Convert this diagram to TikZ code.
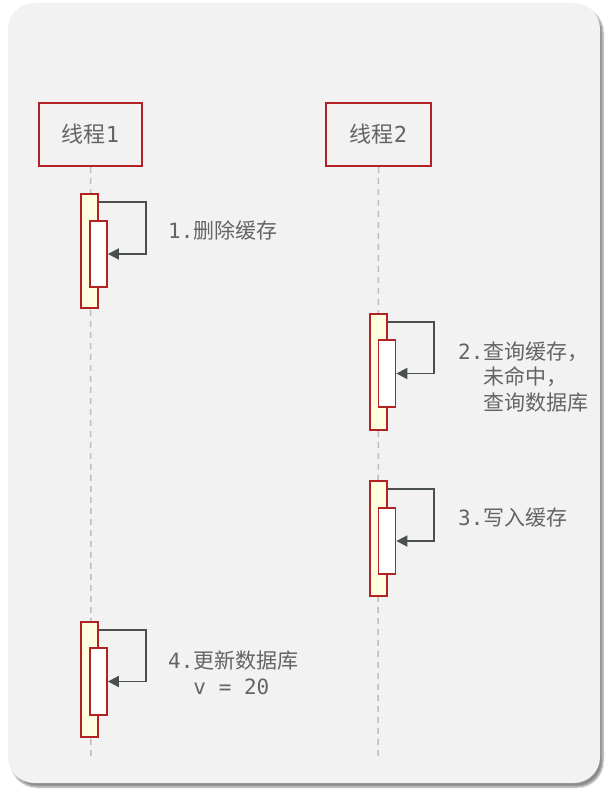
\documentclass[tikz,border=0pt]{standalone}
\usepackage{fontspec}
\setmonofont{DejaVu Sans Mono}
\newfontfamily\cjk{Noto Sans CJK SC}
\usetikzlibrary{arrows.meta,positioning,shadows.blur,calc}
\definecolor{boxred}{RGB}{178,34,34}
\definecolor{bggray}{RGB}{242,242,242}
\definecolor{textgray}{RGB}{100,100,100}
\definecolor{arrowgray}{RGB}{74,79,79}
\definecolor{lifegray}{RGB}{190,190,190}
\definecolor{actyellow}{RGB}{255,255,224}

\begin{document}
\begin{tikzpicture}[x=1pt, y=-1pt,
    head/.style={draw=boxred, line width=1.8pt, fill=bggray, minimum height=63pt, text=textgray, font=\fontsize{22}{26}\selectfont},
    actouter/.style={draw=boxred, line width=1.8pt, fill=actyellow, minimum width=17pt, inner sep=0pt},
    actinner/.style={draw=boxred, line width=1.8pt, fill=white, minimum width=17pt, inner sep=0pt},
    lifeline/.style={lifegray, line width=1.5pt, dash pattern=on 6pt off 5pt},
    selfmsg/.style={arrowgray, line width=1.8pt, -{Triangle[length=11pt, width=11pt]}},
    msglabel/.style={anchor=west, inner sep=0pt, text=textgray, align=left, font=\fontsize{21}{25.5}\selectfont\ttfamily}]
    \useasboundingbox (0,0) rectangle (615,799);
    % background card
    \fill[bggray, rounded corners=26pt, blur shadow={shadow xshift=3pt, shadow yshift=-4pt, shadow blur steps=6, shadow opacity=45}] (8,3) rectangle (600,783);
    % threads
    \node[head, minimum width=103pt] (t1) at (90.5,134.5) {{\cjk 线程}{\ttfamily 1}};
    \node[head, minimum width=105pt] (t2) at (378.5,134.5) {{\cjk 线程}{\ttfamily 2}};
    \coordinate (e1) at (91,760);
    \coordinate (e2) at (378,760);
    \draw[lifeline] (t1.south) -- (e1);
    \draw[lifeline] (t2.south) -- (e2);
    % activations
    \node[actouter, minimum height=114pt] (o1) at (89.5,251) {};
    \node[actinner, minimum height=66pt] (i1) at (98.5,254) {};
    \node[actouter, minimum height=116pt] (o2) at (378.5,372) {};
    \node[actinner, minimum height=67pt] (i2) at (387,373.5) {};
    \node[actouter, minimum height=115pt] (o3) at (378.5,538.5) {};
    \node[actinner, minimum height=66pt] (i3) at (387,541) {};
    \node[actouter, minimum height=115pt] (o4) at (89.5,679.5) {};
    \node[actinner, minimum height=67pt] (i4) at (98.5,681.5) {};
    % self messages
    \draw[selfmsg] ($(o1.north east)+(0,9)$) -- ++(47,0) |- (i1.east);
    \draw[selfmsg] ($(o2.north east)+(0,9)$) -- ++(46,0) |- (i2.east);
    \draw[selfmsg] ($(o3.north east)+(0,9)$) -- ++(46,0) |- (i3.east);
    \draw[selfmsg] ($(o4.north east)+(0,9)$) -- ++(47,0) |- (i4.east);
    % labels
    \node[msglabel] (l1) at (168,230) {1.{\cjk 删除缓存}};
    \node[msglabel] (l2) at (458,377) {2.{\cjk 查询缓存，}\\\hphantom{2.}{\cjk 未命中，}\\\hphantom{2.}{\cjk 查询数据库}};
    \node[msglabel] (l3) at (458,518) {3.{\cjk 写入缓存}};
    \node[msglabel] (l4) at (168,673) {4.{\cjk 更新数据库}\\\hphantom{4.}v = 20};
\end{tikzpicture}
\end{document}
